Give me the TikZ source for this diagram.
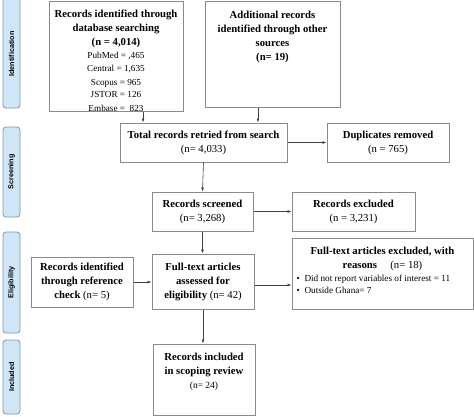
\documentclass[tikz,border=0pt]{standalone}
\usepackage{fontspec}
\setmainfont{Liberation Serif}
\setsansfont{Liberation Sans}
\usetikzlibrary{arrows.meta}
\definecolor{barfill}{HTML}{CFE6F7}
\definecolor{barline}{HTML}{7F98AD}
\definecolor{boxline}{HTML}{8A8A8A}
\newcommand{\smalltxt}{\fontsize{9.2}{12.5}\selectfont}
\begin{document}
\begin{tikzpicture}[x=1pt,y=-1pt,
  box/.style={draw=boxline, line width=1pt, fill=white, inner sep=0pt},
  bar/.style={draw=barline, fill=barfill, rounded corners=3pt, line width=0.8pt, inner sep=0pt, minimum width=17pt},
  barlabel/.style={rotate=90, font=\sffamily\bfseries\fontsize{7.2}{8}\selectfont},
  txt/.style={align=center, inner sep=0pt, font=\fontsize{10.7}{14}\selectfont},
  arr/.style={draw=black!75, line width=0.6pt, -{Latex[length=4pt,width=3pt]}}]
\useasboundingbox (0,0) rectangle (474,416);
% side bars
\node[bar, minimum height=112pt] (bI) at (11.5,52) {};
\node[barlabel] at ([yshift=-2]bI.center) {Identification};
\node[bar, minimum height=90pt] (bS) at (11.5,172) {};
\node[barlabel] at (bS) {Screening};
\node[bar, minimum height=101pt] (bE) at (11.5,282.5) {};
\node[barlabel] at (bE) {Eligibility};
\node[bar, minimum height=74pt] (bN) at (11.5,377) {};
\node[barlabel] at (bN) {Included};
% boxes
\node[box, minimum width=134pt, minimum height=110pt] (A) at (116,56) {};
\node[txt, anchor=north] (At) at ([yshift=-9.5]A.north) {\textbf{Records identified through}\\\textbf{database searching}\\\textbf{(n = 4,014)}\\[-1.5pt]
 {\smalltxt PubMed = ,465}\\[-0.5pt]{\smalltxt Central = 1,635}\\[-0.5pt]{\smalltxt Scopus = 965}\\[-1.5pt]{\smalltxt JSTOR = 126}\\[-0.5pt]{\smalltxt Embase =\ \ 823}};
\node[box, minimum width=135pt, minimum height=106pt] (B) at (272.5,54) {};
\node[txt, anchor=north] (Bt) at ([yshift=-10]B.north) {\textbf{Additional records}\\\textbf{identified through other}\\\textbf{sources}\\\textbf{(n= 19)}};
\node[box, minimum width=167pt, minimum height=39pt] (T) at (203.5,142.5) {};
\node[txt] at (T) {\textbf{Total records retried from search}\\(n= 4,033)};
\node[box, minimum width=122pt, minimum height=39pt] (D) at (388,142.5) {};
\node[txt] at (D) {\textbf{Duplicates removed}\\(n = 765)};
\node[box, minimum width=101pt, minimum height=39pt] (S) at (202.5,211.5) {};
\node[txt] at (S) {\textbf{Records screened}\\(n= 3,268)};
\node[box, minimum width=123pt, minimum height=39pt] (E) at (353.5,211.5) {};
\node[txt] at (E) {\textbf{Records excluded}\\(n = 3,231)};
\node[box, minimum width=102pt, minimum height=55pt] (F) at (203,281.5) {};
\node[txt] at (F) {\textbf{Full-text articles}\\\textbf{assessed for}\\\textbf{eligibility} (n= 42)};
\node[box, minimum width=102pt, minimum height=50pt] (R) at (82,282) {};
\node[txt] at (R) {\textbf{Records identified}\\\textbf{through reference}\\\textbf{check} (n= 5)};
\node[box, minimum width=181pt, minimum height=71pt] (X) at (382.5,273.5) {};
\node[txt, anchor=north] (Xt) at ([yshift=-9]X.north) {\textbf{Full-text articles excluded, with}\\\textbf{reasons}\quad\ (n= 18)};
\node[inner sep=0pt, anchor=north west, align=left, font=\smalltxt] (Xb) at ([xshift=5,yshift=-37]X.north west) {\textbullet\ \ Did not report variables of interest = 11\\\textbullet\ \ Outside Ghana= 7};
\node[box, minimum width=102pt, minimum height=71pt] (I) at (204,379.5) {};
\node[txt, anchor=north] (It) at ([yshift=-9.5]I.north) {\textbf{Records included}\\\textbf{in scoping review}\\{\fontsize{9.5}{12}\selectfont(n= 24)}};
% arrows
\draw[arr] ([xshift=27]A.south) -- ([xshift=27]A.south |- T.north);
\draw[arr] ([xshift=-14.5]B.south) -- ([xshift=-14.5]B.south |- T.north);
\draw[arr] (T.east) -- (D.west);
\draw[arr] (T.south) -- (S.north);
\draw[arr] (S.east) -- (E.west);
\draw[arr] (S.south) -- (S.south |- F.north);
\draw[arr] (R.east) -- (R.east -| F.west);
\draw[arr] ([yshift=-3.5]F.east) -- ([yshift=-3.5]F.east -| X.west);
\draw[arr] (F.south) -- (F.south |- I.north);
\end{tikzpicture}
\end{document}
